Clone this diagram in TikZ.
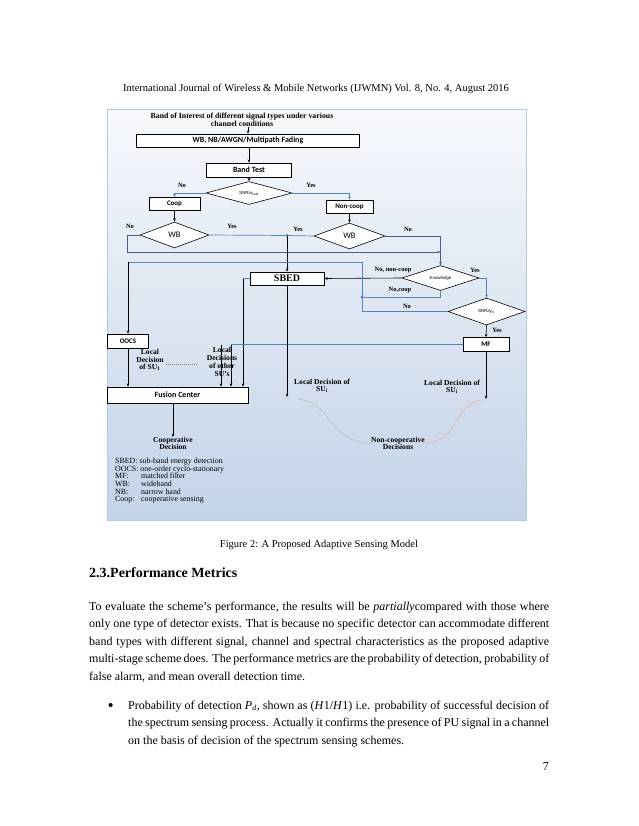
\documentclass[tikz,border=0pt]{standalone}
\usepackage{fontspec}
\setmainfont{Liberation Serif}
\newfontfamily\boxfont{Carlito}
\newfontfamily\symfont{Liberation Sans}
\usetikzlibrary{shapes.geometric,arrows.meta}
\definecolor{lineblue}{HTML}{5A82BA}
\definecolor{darkline}{HTML}{4A5F80}
\definecolor{paneltop}{HTML}{F7F9FC}
\definecolor{panelbot}{HTML}{C3D3E9}
\definecolor{panelborder}{HTML}{B4C8E0}
\definecolor{greendash}{HTML}{9CC39A}
\definecolor{orangedash}{HTML}{F0A58A}
\begin{document}
\begin{tikzpicture}[x=1pt,y=-1pt,
  arr/.style={-{Stealth[length=3.2pt,width=2.6pt]}, line width=0.6pt, black},
  bl/.style={line width=0.7pt, lineblue},
  blarr/.style={bl, -{Stealth[length=3.2pt,width=2.6pt]}},
  dkarr/.style={line width=0.7pt, darkline, -{Stealth[length=3.2pt,width=2.6pt]}},
  rbox/.style={draw, fill=white, line width=0.7pt, inner sep=0pt, font=\boxfont\bfseries\fontsize{8}{8}\selectfont},
  sbox/.style={rbox, font=\boxfont\bfseries\fontsize{7}{7}\selectfont},
  dia/.style={diamond, draw, fill=white, line width=0.6pt, inner sep=0pt, aspect=3},
  lbl/.style={font=\bfseries\fontsize{6.5}{7}\selectfont, inner sep=0pt},
  dlbl/.style={font=\bfseries\fontsize{7.6}{7.3}\selectfont, inner sep=0pt, align=center},
  bodyline/.style={anchor=base west, inner sep=0pt, font=\fontsize{12}{14}\selectfont}
]
\fill[white] (0,0) rectangle (638,826);
\useasboundingbox (0,0) rectangle (638,826);

% header
\node[anchor=base, inner sep=0pt, font=\fontsize{10.5}{12}\selectfont] (hdr) at (316,92) {International Journal of Wireless \& Mobile Networks (IJWMN) Vol. 8, No. 4, August 2016};

% panel
\shade[top color=paneltop, bottom color=panelbot] (107,109) rectangle (526,520);
\draw[panelborder, line width=0.8pt] (107,109) rectangle (526,520);

% flow chart
\node[font=\bfseries\fontsize{7.8}{8}\selectfont, align=center, inner sep=0.5pt] (title) at (242,120) {Band of Interest of different signal types under various\\channel conditions};
\node[rbox, minimum width=223pt, minimum height=13pt] (src) at (248,140.5) {WB, NB/AWGN/Multipath Fading};
\node[rbox, minimum width=85pt, minimum height=14pt] (band) at (249,170) {Band Test};
\node[dia, minimum width=86pt, minimum height=23pt] (snr) at (249,193) {\symfont\fontsize{4.4}{4.4}\selectfont SNR≥γ\textsubscript{wall}};
\draw[arr] (src.north |- title.south) -- (src.north);
\draw[arr] (band.north |- src.south) -- (band.north);
\draw[arr] (band.south) -- (snr.north);

\node[sbox, minimum width=51pt, minimum height=13pt] (coop) at (174.5,204) {Coop};
\node[sbox, minimum width=47pt, minimum height=13pt] (noncoop) at (349.5,206.5) {Non-coop};
\draw[blarr] (snr.west) -| (coop.north);
\draw[blarr] (snr.east) -| (noncoop.north);
\node[lbl] at (182,185) {No};
\node[lbl] at (311,185) {Yes};

\node[dia, minimum width=69pt, minimum height=26pt, font=\boxfont\fontsize{8.5}{8.5}\selectfont] (wb1) at (174.5,235) {WB};
\node[dia, minimum width=71pt, minimum height=26pt, font=\boxfont\fontsize{8.5}{8.5}\selectfont] (wb2) at (349.5,236) {WB};
\draw[arr] (coop.south) -- (wb1.north);
\draw[arr] (noncoop.south) -- (wb2.north);
\coordinate (j1) at (287,235.5);
\draw[bl] (wb1.east) -- (j1) -- (wb2.west);
\fill[lineblue] (j1) circle (1.6pt);
\node[lbl] at (232,226) {Yes};
\node[lbl] at (298,229) {Yes};
\node[lbl] at (130,226) {No};
\node[lbl] at (408,229) {No};

\node[rbox, font=\bfseries\fontsize{10}{10}\selectfont, minimum width=74pt, minimum height=13pt] (sbed) at (287,278.5) {SBED};
\draw[arr] (j1) -- (sbed.north);

\node[dia, minimum width=77pt, minimum height=25pt] (know) at (440.5,278) {\symfont\fontsize{4.4}{4.4}\selectfont Knowledge};
\coordinate (k1) at (440.5,252);
\draw[dkarr] (wb1.west) -- ++(-12,0) |- (k1);
\draw[dkarr] (wb2.east) -| (know.north);
\draw[arr] (know.west) -- (sbed.east);
\node[lbl] at (393,270) {No, non-coop};

\node[dia, minimum width=77pt, minimum height=27pt] (snrst) at (486.5,311.5) {\symfont\fontsize{4.4}{4.4}\selectfont SNR≥γ\textsubscript{m}};
\draw[blarr] (know.east) -| (snrst.north);
\node[lbl] at (475,270) {Yes};
\node[sbox, minimum width=46pt, minimum height=14pt] (mf) at (486,344.5) {MF};
\draw[arr] (snrst.south) -- (mf.north);
\node[lbl] at (497,330) {Yes};

\node[sbox, minimum width=41pt, minimum height=14pt] (oocs) at (128,341) {OOCS};
\coordinate (c1) at (362,311.5);
\coordinate (c2) at (362,262);
\coordinate (c3) at (128,262);
\draw[bl] (snrst.west) -- (c1) -- (c2) -- (c3);
\draw[arr] (c3) -- (oocs.north);
\node[lbl] at (407,306) {No};
\coordinate (d1) at (362,297);
\draw[bl] (know.south) |- (d1);
\fill[lineblue] (d1) circle (1.6pt);
\node[lbl] at (400,290) {No,coop};

\node[rbox, minimum width=141pt, minimum height=16pt] (fusion) at (177.5,395) {Fusion Center};
\draw[arr] (oocs.south) -- (oocs.south |- fusion.north);
\coordinate (s1) at (243,278.5);
\draw[bl] (sbed.west) -- (s1);
\draw[arr] (s1) -- (s1 |- fusion.north);
\coordinate (m1) at (231,344.5);
\draw[bl] (mf.west) -- (m1);
\draw[arr] (m1) -- (m1 |- fusion.north);
\coordinate (o1) at (221,344.5);
\draw[arr] (o1) -- (o1 |- fusion.north);

\node[dlbl] (ld1lbl) at (150,360) {Local\\Decision\\of SU\textsubscript{1}};
\coordinate (dt1) at (166,364);
\coordinate (dt2) at (198,364);
\draw[gray, line width=0.5pt, dash pattern=on 1pt off 1pt] (dt1) -- (dt2);
\node[dlbl, font=\bfseries\fontsize{7.6}{8}\selectfont] (ldolbl) at (222,362) {Local\\Decisions\\of other\\SU's};

\coordinate (ld1) at (287,397);
\coordinate (ld2) at (486,399);
\draw[arr] (sbed.south) -- (ld1);
\draw[arr] (mf.south) -- (ld2);
\node[dlbl] at (322,386) {Local Decision of\\SU\textsubscript{i}};
\node[dlbl] at (452,387) {Local Decision of\\SU\textsubscript{i}};

\node[dlbl] (coopdec) at (173,443.5) {Cooperative\\Decision};
\draw[arr] (fusion.south -| coopdec.north) -- (coopdec.north);
\node[dlbl] (ncdec) at (398,443.5) {Non-cooperative\\Decisions};
\coordinate (g0) at (298,399);
\coordinate (r0) at (482,400);
\draw[greendash, line width=0.7pt, dash pattern=on 1.5pt off 1pt] (g0) .. controls (335,404) and (325,440) .. (ncdec.west);
\draw[orangedash, line width=0.7pt, dash pattern=on 1.5pt off 1pt] (r0) .. controls (452,404) and (462,440) .. (ncdec.east);

\node[anchor=north west, align=left, inner sep=0pt, font=\fontsize{7.9}{7.6}\selectfont] (legend) at (115,458) {SBED: sub-band energy detection\\OOCS: one-order cyclo-stationary\\\makebox[26pt][l]{MF:}matched filter\\\makebox[26pt][l]{WB:}wideband\\\makebox[26pt][l]{NB:}narrow band\\\makebox[26pt][l]{Coop:}cooperative sensing};

% caption and text
\node[anchor=base, inner sep=0pt, font=\fontsize{10.5}{12}\selectfont] (cap) at (319,547) {Figure 2: A Proposed Adaptive Sensing Model};
\node[anchor=base west, inner sep=0pt, font=\bfseries\fontsize{14}{16}\selectfont] (sec) at (89,577) {2.3.Performance Metrics};

\node[bodyline] (p1) at (89,610) {\makebox[460pt][s]{To evaluate the scheme’s performance, the results will be \textit{partially}compared with those where}};
\node[bodyline] (p2) at (89,627.5) {\makebox[460pt][s]{only one type of detector exists. That is because no specific detector can accommodate different}};
\node[bodyline] (p3) at (89,645) {\makebox[460pt][s]{band types with different signal, channel and spectral characteristics as the proposed adaptive}};
\node[bodyline] (p4) at (89,662.5) {\makebox[460pt][s]{multi-stage scheme does. The performance metrics are the probability of detection, probability of}};
\node[bodyline] (p5) at (89,680) {false alarm, and mean overall detection time.};

\node[anchor=base west, inner sep=0pt, font=\bfseries\fontsize{15}{15}\selectfont] (bul) at (108,710) {•};
\node[bodyline] (b1) at (128,709) {\makebox[421pt][s]{Probability of detection \textit{P\textsubscript{d}}, shown as (\textit{H}1/\textit{H}1) i.e. probability of successful decision of}};
\node[bodyline] (b2) at (128,726.5) {\makebox[421pt][s]{the spectrum sensing process. Actually it confirms the presence of PU signal in a channel}};
\node[bodyline] (b3) at (128,744) {on the basis of decision of the spectrum sensing schemes.};

\node[anchor=base east, inner sep=0pt, font=\fontsize{12}{14}\selectfont] (pg) at (549,770) {7};
\end{tikzpicture}
\end{document}
